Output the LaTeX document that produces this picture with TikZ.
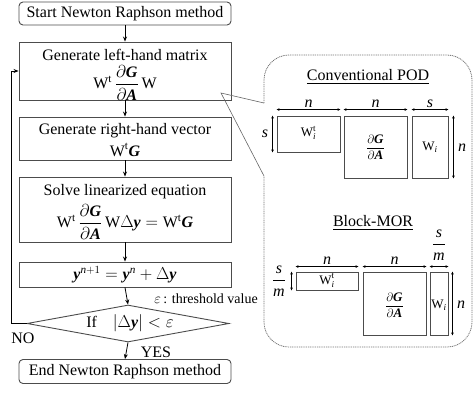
\documentclass[tikz,border=0pt]{standalone}
\usepackage{amsmath}
\usepackage{fontspec}
\setmainfont{Liberation Serif}
\usetikzlibrary{shapes.geometric,arrows.meta}
\newcommand{\bG}{\textbf{\textit{G}}}
\newcommand{\bA}{\textbf{\textit{A}}}
\newcommand{\by}{\textbf{\textit{y}}}
\newcommand{\Wt}{\textrm{W}^{\textrm{t}}}
\newcommand{\Wr}{\textrm{W}}
\newcommand{\vn}{\textit{n}}
\newcommand{\vs}{\textit{s}}
\newcommand{\vm}{\textit{m}}
\begin{document}
\begin{tikzpicture}[x=1pt,y=-1pt,
  flowbox/.style={draw=black!70, line width=0.9pt, minimum width=212pt, inner sep=0pt},
  rflowbox/.style={flowbox, rounded corners=4pt},
  txt/.style={inner sep=0pt, font=\fontsize{16}{19}\selectfont},
  midtxt/.style={inner sep=0pt, font=\fontsize{14}{17}\selectfont},
  smalltxt/.style={inner sep=0pt, font=\fontsize{13}{15}\selectfont},
  arr/.style={line width=0.8pt, -{Stealth[length=5pt,width=4pt]}},
  mat/.style={draw=black!70, line width=0.9pt, inner sep=0pt},
  dimarr/.style={line width=0.6pt, {Stealth[length=3pt,width=2.6pt]}-{Stealth[length=3pt,width=2.6pt]}},
  panel/.style={draw=black!55, line width=0.8pt, dash pattern=on 1pt off 0.8pt},
  pointer/.style={draw=black!60, line width=0.6pt}
]
\useasboundingbox (0,0) rectangle (474,410);

% ---------- flow chart boxes ----------
\node[rflowbox, minimum height=23pt] (start) at (125,13.5) {};
\node[flowbox, minimum height=58pt] (lhm) at (125,71) {};
\node[flowbox, minimum height=43pt] (rhv) at (125,138.5) {};
\node[flowbox, minimum height=65pt] (sle) at (125,209.5) {};
\node[flowbox, minimum height=25pt] (upd) at (125,274.5) {};
\node[draw=black!70, line width=0.9pt, shape=diamond, shape aspect=5.46,
      minimum width=202pt, minimum height=37pt, inner sep=0pt] (dia) at (128,323.5) {};
\node[rflowbox, minimum height=24pt] (fin) at (125,371.5) {};

% ---------- texts ----------
\node[txt] (tstart) at (125,14) {Start Newton Raphson method};
\node[txt] (tlhm) at (125,55) {Generate left-hand matrix};
\node[txt] (flhm) at (125,83) {$\Wt\,\dfrac{\partial\bG}{\partial\bA}\,\Wr$};
\node[txt] (trhv) at (125,131) {Generate right-hand vector};
\node[txt] (frhv) at (125,150) {$\Wt\bG$};
\node[txt] (tsle) at (125,192) {Solve linearized equation};
\node[txt] (fsle) at (125,222) {$\Wt\,\dfrac{\partial\bG}{\partial\bA}\,\Wr\Delta\by=\Wt\bG$};
\node[txt] (fupd) at (125,275) {$\by^{\vn+1}=\by^{\vn}+\Delta\by$};
\node[midtxt, anchor=east] (thr) at (258,299) {$\varepsilon$\,: threshold value};
\node[txt] (fdia) at (130,323.5) {If\quad$|\Delta\by|<\varepsilon$};
\node[txt] (tno) at (23,338) {NO};
\node[txt] (tyes) at (156,352) {YES};
\node[txt] (tfin) at (125,372) {End Newton Raphson method};

% ---------- connectors ----------
\draw[arr] (start) -- (lhm);
\draw[arr] (lhm) -- (rhv);
\draw[arr] (rhv) -- (sle);
\draw[arr] (sle) -- (upd);
\draw[arr] (upd.south) -- (dia.north);
\draw[arr] (dia.south) -- (fin.north);
\coordinate (lp1) at (11,323.5);
\coordinate (lp2) at (11,71);
\draw[arr] (dia.west) -- (lp1) -- (lp2) -- (lhm.west);

% ---------- callout panel ----------
\coordinate (tip) at (221,93);
\draw[pointer] (264,103) -- (tip) -- (264,176);
\draw[panel] (264,103) -- (264,80) arc[start angle=180,end angle=270,radius=25]
  -- (447,55) arc[start angle=-90,end angle=0,radius=25]
  -- (472,322) arc[start angle=0,end angle=90,radius=25]
  -- (289,347) arc[start angle=90,end angle=180,radius=25]
  -- (264,176);

% ---------- Conventional POD ----------
\node[txt] (tpod) at (368,77) {\underline{Conventional POD}};
\node[mat, minimum width=63pt, minimum height=36pt] (W1) at (308.5,134) {};
\node[mat, minimum width=63pt, minimum height=62pt] (D1) at (375.5,147) {};
\node[mat, minimum width=36pt, minimum height=62pt] (V1) at (430,147) {};
\node[smalltxt] (lW1) at (308.5,133) {$\textrm{W}_{\textit{i}}^{\textrm{t}}$};
\node[smalltxt] (lD1) at (375.5,147) {$\dfrac{\partial\bG}{\partial\bA}$};
\node[smalltxt] (lV1) at (430,147) {$\textrm{W}_{\textit{i}}$};
\draw[dimarr] ([yshift=6pt]W1.north west) -- ([yshift=6pt]W1.north east)
  node[midway, above=1.5pt, txt] (n1) {\vn};
\draw[dimarr] ([yshift=6pt]D1.north west) -- ([yshift=6pt]D1.north east)
  node[midway, above=1.5pt, txt] (n2) {\vn};
\draw[dimarr] ([yshift=6pt]V1.north west) -- ([yshift=6pt]V1.north east)
  node[midway, above=1.5pt, txt] (s1) {\vs};
\draw[dimarr] ([xshift=-4pt]W1.north west) -- ([xshift=-4pt]W1.south west);
\node[txt] (s2) at (265,134) {\vs};
\draw[dimarr] ([xshift=5pt]V1.north east) -- ([xshift=5pt]V1.south east);
\node[txt] (n3) at (462,148) {\vn};

% ---------- Block-MOR ----------
\node[txt] (tmor) at (373,223) {\underline{Block-MOR}};
\node[mat, minimum width=62pt, minimum height=18pt] (W2) at (327,281) {};
\node[mat, minimum width=63pt, minimum height=63pt] (D2) at (394.5,303.5) {};
\node[mat, minimum width=18pt, minimum height=63pt] (V2) at (439,303.5) {};
\node[smalltxt] (lW2) at (327,280.5) {$\textrm{W}_{\textit{i}}^{\textrm{t}}$};
\node[smalltxt] (lD2) at (394.5,305) {$\dfrac{\partial\bG}{\partial\bA}$};
\node[smalltxt] (lV2) at (439,305) {$\textrm{W}_{\textit{i}}$};
\draw[dimarr] ([yshift=5pt]W2.north west) -- ([yshift=5pt]W2.north east)
  node[midway, above=1.5pt, txt] (n4) {\vn};
\draw[dimarr] ([yshift=5pt]D2.north west) -- ([yshift=5pt]D2.north east)
  node[midway, above=1.5pt, txt] (n5) {\vn};
\draw[dimarr] ([yshift=5pt]V2.north west) -- ([yshift=5pt]V2.north east);
\node[txt] (sm1) at (439,245) {$\dfrac{\vs}{\vm}$};
\draw[dimarr] ([xshift=-4pt]W2.north west) -- ([xshift=-4pt]W2.south west);
\node[txt] (sm2) at (279,281) {$\dfrac{\vs}{\vm}$};
\draw[dimarr] ([xshift=4pt]V2.north east) -- ([xshift=4pt]V2.south east);
\node[txt] (n6) at (461,305) {\vn};
\end{tikzpicture}
\end{document}
